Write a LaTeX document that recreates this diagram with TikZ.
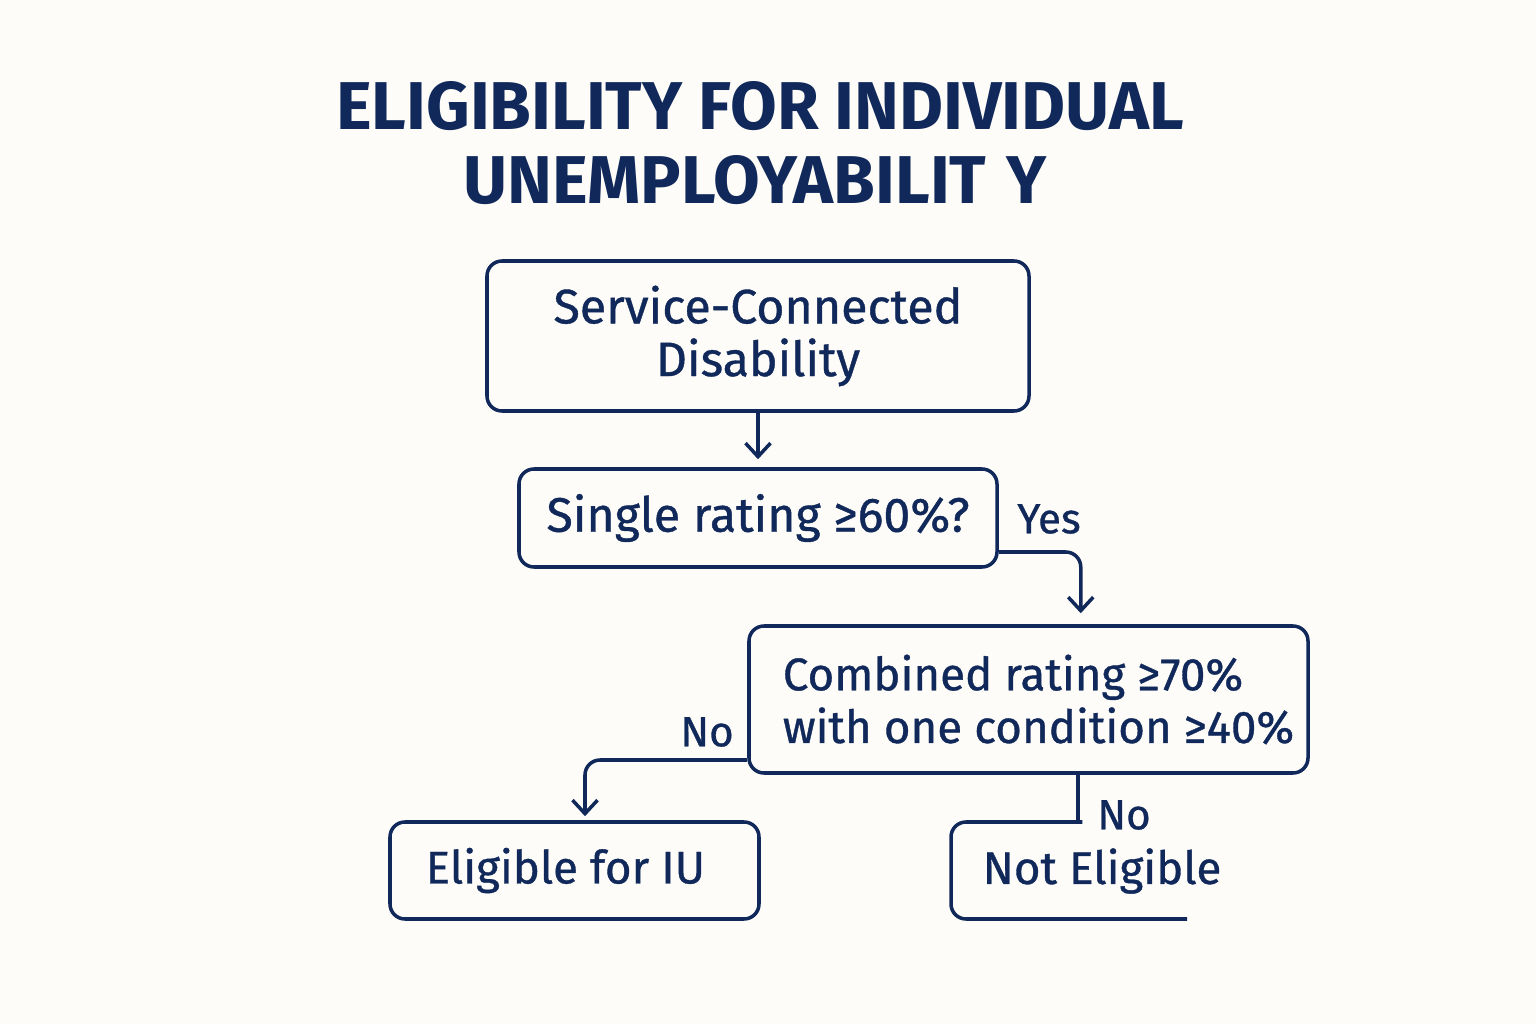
\documentclass[tikz,border=0pt]{standalone}
\usepackage{fontspec}
\setmainfont{Fira Sans}
\newfontfamily\medfont{Fira Sans}[FakeBold=0.8]
\usetikzlibrary{arrows.meta,calc}
\definecolor{navy}{HTML}{11295A}
\definecolor{bg}{HTML}{FDFCF8}
\tikzset{
  box/.style={draw=navy, line width=2pt, rounded corners=0.3cm, inner sep=0pt, text=navy, font=\medfont\fontsize{27.5}{31}\selectfont},
  openbox/.style={inner sep=0pt, text=navy, font=\medfont\fontsize{26}{30}\selectfont},
  conn/.style={draw=navy, line width=2pt, rounded corners=0.3cm, -{Straight Barb[length=0.27cm,width=0.5cm]}},
  plainconn/.style={draw=navy, line width=2pt},
  lbl/.style={text=navy, font=\medfont\fontsize{24}{26}\selectfont, inner sep=0pt},
  ttl/.style={text=navy, font=\bfseries\fontsize{38.5}{40}\selectfont, inner sep=0pt}
}
\begin{document}
\begin{tikzpicture}[x=0.02cm,y=-0.02cm]
\fill[bg] (0,0) rectangle (1536,1024);
\useasboundingbox (0,0) rectangle (1536,1024);

\node[ttl] (t1) at (760,106) {ELIGIBILITY FOR INDIVIDUAL};
\node[ttl] (t2) at (755,180) {UNEMPLOYABILIT\hspace{0.3em}Y};

\node[box, minimum width=542*0.02cm, minimum height=150*0.02cm, align=center] (b1) at (758,336) {Service-Connected\\[-1pt]Disability};
\node[box, minimum width=478*0.02cm, minimum height=98*0.02cm] (b2) at (758,518) {Single rating ≥60\%?};
\node[box, minimum width=559*0.02cm, minimum height=147*0.02cm, align=left, font=\medfont\fontsize{26}{30}\selectfont] (b3) at (1028.5,699.5) {\hspace*{0.4cm}Combined rating ≥70\%\\[0pt]\hspace*{0.4cm}with one condition ≥40\%};
\node[box, minimum width=369*0.02cm, minimum height=97*0.02cm, font=\medfont\fontsize{26}{30}\selectfont] (b4) at (574.5,870.5) {\hspace{-0.4em}Eligible for IU};
\node[openbox] (b5) at (1102,871) {Not Eligible};

% open frame of the "Not Eligible" box
\coordinate (nw) at (951,822);
\coordinate (sw) at (951,919);
\coordinate (se) at (1187,919);

% connectors
\draw[conn, shorten >=0.16cm] (b1.south) -- (b2.north);
\coordinate (yk) at ($(b2.east)+(82,34)$);
\draw[conn, shorten >=0.22cm] ($(b2.east)+(0,34)$) -- (yk) -- (yk |- b3.north);
\coordinate (nk) at (585,760);
\draw[conn, shorten >=0.08cm] ($(b3.west)+(0,60.5)$) -- (nk) -- (nk |- b4.north);
\coordinate (nj) at ($(b3.south west)+(331,0)$);
\draw[plainconn] (nj) -- ($(nj |- nw)+(0,1.5)$);
\draw[plainconn, rounded corners=0.3cm] ($(nj |- nw)+(4,0)$) -- (nw) -- (sw) -- (se);

\node[lbl] (yes) at (1049,519) {Yes};
\node[lbl] (no1) at (707,732) {No};
\node[lbl] (no2) at (1124,815) {No};
\end{tikzpicture}
\end{document}
